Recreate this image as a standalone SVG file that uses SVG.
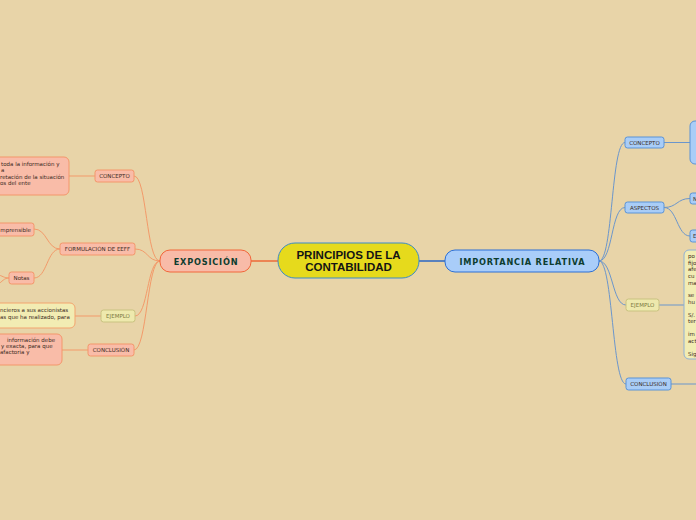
<svg xmlns="http://www.w3.org/2000/svg" width="696" height="520" viewBox="0 0 696 520">
<style>
.bg{fill:#e8d4a8}
.lc{fill:none;stroke:#f39a6a;stroke-width:1}
.rc{fill:none;stroke:#6b96cc;stroke-width:1}
.pk{fill:#f9bca8;stroke:#f4966a;stroke-width:1}
.yl{fill:#eee9ad;stroke:#c9c280;stroke-width:1}
.yb{fill:#f2ecb3;stroke:#f3a46e;stroke-width:1}
.bl{fill:#a9cdf7;stroke:#5b93d6;stroke-width:1}
.yr{fill:#f2ecb3;stroke:#8fb0d6;stroke-width:1}
.s{font-family:"DejaVu Sans",Verdana,sans-serif;font-size:5.5px;fill:#3a2a22}
.c{text-anchor:middle}
.yt{fill:#7a7840}
.m{font-family:"DejaVu Sans",Verdana,sans-serif;font-size:8.2px;font-weight:bold;fill:#0d3d2f;letter-spacing:0.8px;text-anchor:middle}
.t{font-family:"Liberation Sans",Arial,sans-serif;font-size:11.5px;font-weight:bold;fill:#141414;text-anchor:middle}
</style>
<rect class="bg" x="0" y="0" width="696" height="520"/>
<g id="connectors">
<path d="M251,261 L278,261" fill="none" stroke="#ee6a37" stroke-width="1.5"/>
<path d="M419,261 L445,261" fill="none" stroke="#2a66c5" stroke-width="1.5"/>
<path class="lc" d="M160,261 C146,261 147,176 134,176"/>
<path class="lc" d="M160,261 C147,261 148,249 135,249"/>
<path class="lc" d="M160,261 C147,261 148,316 135,316"/>
<path class="lc" d="M160,261 C147,261 147,350 134,350"/>
<path class="lc" d="M95,176 L69,176"/>
<path class="lc" d="M60,249 C47,249 47,229 34,229"/>
<path class="lc" d="M60,249 C47,249 47,278 34,278"/>
<path class="lc" d="M9,278 C4,278 3,276 -4,274"/>
<path class="lc" d="M9,278 C4,278 3,281 -4,286"/>
<path class="lc" d="M101,316 L75,316"/>
<path class="lc" d="M88,350 L62,350"/>
<path class="rc" d="M599,261 C613,261 611,142.5 625,142.5"/>
<path class="rc" d="M599,261 C613,261 611,207.5 625,207.5"/>
<path class="rc" d="M599,261 C613,261 612,305 626,305"/>
<path class="rc" d="M599,261 C613,261 612,384 626,384"/>
<path class="rc" d="M664,142.5 L690,142.5"/>
<path class="rc" d="M664,207.5 C677,207.5 677,198.5 690,198.5"/>
<path class="rc" d="M664,207.5 C677,207.5 677,236 690,236"/>
<path class="rc" d="M659,305 L684,305"/>
<path class="rc" d="M671,384 L700,384"/>
</g>
<g id="root">
<rect x="278" y="243" width="141" height="35" rx="17" fill="#e6da1c" stroke="#3a8bc8" stroke-width="1"/>
<text class="t" x="348.5" y="258.5">PRINCIPIOS DE LA</text>
<text class="t" x="348.5" y="271">CONTABILIDAD</text>
</g>
<g id="exposicion">
<rect x="160" y="250" width="91" height="22" rx="10" fill="#f8bba8" stroke="#f2663a" stroke-width="1"/>
<text class="m" x="206" y="264.5">EXPOSICIÓN</text>
</g>
<g id="importancia">
<rect x="445" y="250" width="154" height="22" rx="10" fill="#a9cdf9" stroke="#2b6fd6" stroke-width="1"/>
<text class="m" x="522.5" y="264.5">IMPORTANCIA RELATIVA</text>
</g>
<g id="l-concepto">
<rect class="pk" x="95" y="170" width="39" height="12" rx="2.5"/>
<text class="s c" x="114.5" y="178.2">CONCEPTO</text>
</g>
<g id="l-concepto-text">
<rect class="pk" x="-10" y="157" width="79" height="38" rx="5"/>
<text class="s" x="1" y="166">toda la información y</text>
<text class="s" x="1" y="172">a</text>
<text class="s" x="0" y="178.8">retación de la situación</text>
<text class="s" x="0" y="184.8">os del ente</text>
</g>
<g id="l-formulacion">
<rect class="pk" x="60" y="243" width="75" height="12" rx="2.5"/>
<text class="s c" x="97.5" y="251.2">FORMULACIÓN DE EEFF</text>
</g>
<g id="l-comprensible">
<rect class="pk" x="-10" y="223" width="44" height="13" rx="2.5"/>
<text class="s" x="31" y="231.5" text-anchor="end">mprensible</text>
</g>
<g id="l-notas">
<rect class="pk" x="9" y="272" width="25" height="12" rx="2.5"/>
<text class="s c" x="21.5" y="280">Notas</text>
</g>
<g id="l-ejemplo">
<rect class="yl" x="101" y="310" width="34" height="12" rx="2.5"/>
<text class="s c yt" x="118" y="318.2">EJEMPLO</text>
</g>
<g id="l-ejemplo-text">
<rect class="yb" x="-10" y="303" width="85" height="25" rx="5"/>
<text class="s" x="0" y="312">ncieros a sus accionistas</text>
<text class="s" x="0" y="318.5">as que ha realizado, para</text>
</g>
<g id="l-conclusion">
<rect class="pk" x="88" y="344" width="46" height="12" rx="2.5"/>
<text class="s c" x="111" y="352.2">CONCLUSIÓN</text>
</g>
<g id="l-conclusion-text">
<rect class="pk" x="-10" y="334" width="72" height="31" rx="5"/>
<text class="s" x="7" y="342">información debe</text>
<text class="s" x="1" y="348">y exacta, para que</text>
<text class="s" x="0" y="354">afactoria y</text>
</g>
<g id="r-concepto">
<rect class="bl" x="625" y="137" width="39" height="11" rx="2.5"/>
<text class="s c" x="644.5" y="144.7">CONCEPTO</text>
</g>
<g id="r-concepto-text">
<rect class="bl" x="690" y="121" width="30" height="43" rx="5"/>
</g>
<g id="r-aspectos">
<rect class="bl" x="625" y="202" width="39" height="11" rx="2.5"/>
<text class="s c" x="644.5" y="209.7">ASPECTOS</text>
</g>
<g id="r-aspectos-n">
<rect class="bl" x="690" y="193" width="30" height="11" rx="2.5"/>
<text class="s" x="693" y="200.8">N</text>
</g>
<g id="r-aspectos-e">
<rect class="bl" x="690" y="230" width="30" height="12" rx="2.5"/>
<text class="s" x="693" y="238.3">E</text>
</g>
<g id="r-ejemplo">
<rect class="yl" x="626" y="299" width="33" height="12" rx="2.5"/>
<text class="s c yt" x="642.5" y="307.2">EJEMPLO</text>
</g>
<g id="r-ejemplo-text">
<rect class="yr" x="684" y="250" width="40" height="109" rx="5"/>
<text class="s" x="688" y="258">po</text>
<text class="s" x="688" y="264.5">fijo</text>
<text class="s" x="688" y="271">afe</text>
<text class="s" x="688" y="278">cu</text>
<text class="s" x="688" y="284.5">ma</text>
<text class="s" x="688" y="297">se</text>
<text class="s" x="688" y="303.5">hu</text>
<text class="s" x="688" y="317">S/.</text>
<text class="s" x="688" y="323">ter</text>
<text class="s" x="688" y="336">im</text>
<text class="s" x="688" y="342.5">act</text>
<text class="s" x="688" y="355.5">Sig</text>
</g>
<g id="r-conclusion">
<rect class="bl" x="626" y="378" width="45" height="12" rx="2.5" stroke="#3f7fd0"/>
<text class="s c" x="648.5" y="386.2">CONCLUSIÓN</text>
</g>
</svg>
